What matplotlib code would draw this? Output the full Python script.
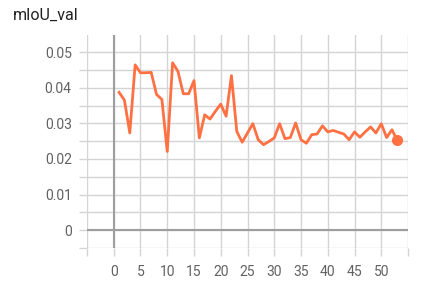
import numpy as np
import matplotlib.pyplot as plt

# Data
steps = list(range(1, 54))
miou_val = [0.0387, 0.0365, 0.0273, 0.0464, 0.0442, 0.0442, 0.0443, 0.0381, 0.0367, 0.0221,
            0.0470, 0.0446, 0.0383, 0.0383, 0.0420, 0.0259, 0.0324, 0.0312, 0.0334, 0.0354,
            0.0320, 0.0434, 0.0277, 0.0247, 0.0273, 0.0299, 0.0254, 0.0240, 0.0249, 0.0259,
            0.0299, 0.0257, 0.0260, 0.0301, 0.0254, 0.0244, 0.0268, 0.0270, 0.0293, 0.0276,
            0.0280, 0.0275, 0.0270, 0.0254, 0.0276, 0.0261, 0.0276, 0.0290, 0.0273, 0.0299,
            0.0260, 0.0282, 0.0252]

x_ticks = list(range(-5, 60, 5))
y_ticks = [-0.005, 0, 0.005, 0.01, 0.015, 0.02, 0.025, 0.03, 0.035, 0.04, 0.045, 0.05]
x_labels = ['' if t in (-5, 55) else str(t) for t in x_ticks]
y_labels = ['0' if abs(t) < 1e-9 else (f'{t:.2f}' if round(t * 1000) % 10 == 0 else '') for t in y_ticks]

plt.rcParams['font.family'] = ['Roboto', 'DejaVu Sans']

line_color = '#ff7043'
grid_color = '#d4d4d4'
text_color = '#616161'

fig = plt.figure(figsize=(4.47, 2.82), dpi=100)
ax = fig.add_axes([0.1946, 0.1206, 0.7182, 0.7553])

ax.set_xlim(-5, 55)
ax.set_ylim(-0.005, 0.0548)

ax.set_xticks(x_ticks)
ax.set_xticklabels(x_labels)
ax.set_yticks(y_ticks)
ax.set_yticklabels(y_labels)

ax.grid(True, color=grid_color, linewidth=1)
ax.set_axisbelow(True)
for spine in ax.spines.values():
    spine.set_visible(False)

ax.tick_params(axis='both', colors=grid_color, length=6, width=1, labelsize=10, labelcolor=text_color)
ax.tick_params(axis='y', pad=5)
ax.tick_params(axis='x', pad=6)

# darker zero lines
ax.axhline(0, color='#9e9e9e', linewidth=1.5, zorder=1)
ax.axvline(0, color='#9e9e9e', linewidth=1.5, zorder=1)

ax.plot(steps, miou_val, color=line_color, linewidth=2, zorder=3)
ax.plot(steps[-1], miou_val[-1], 'o', color=line_color, markersize=7, zorder=4)

fig.text(0.029, 0.945, 'mIoU_val', fontsize=11.5, color='#212121', va='center', ha='left')

fig.savefig('out.png', dpi=100)
